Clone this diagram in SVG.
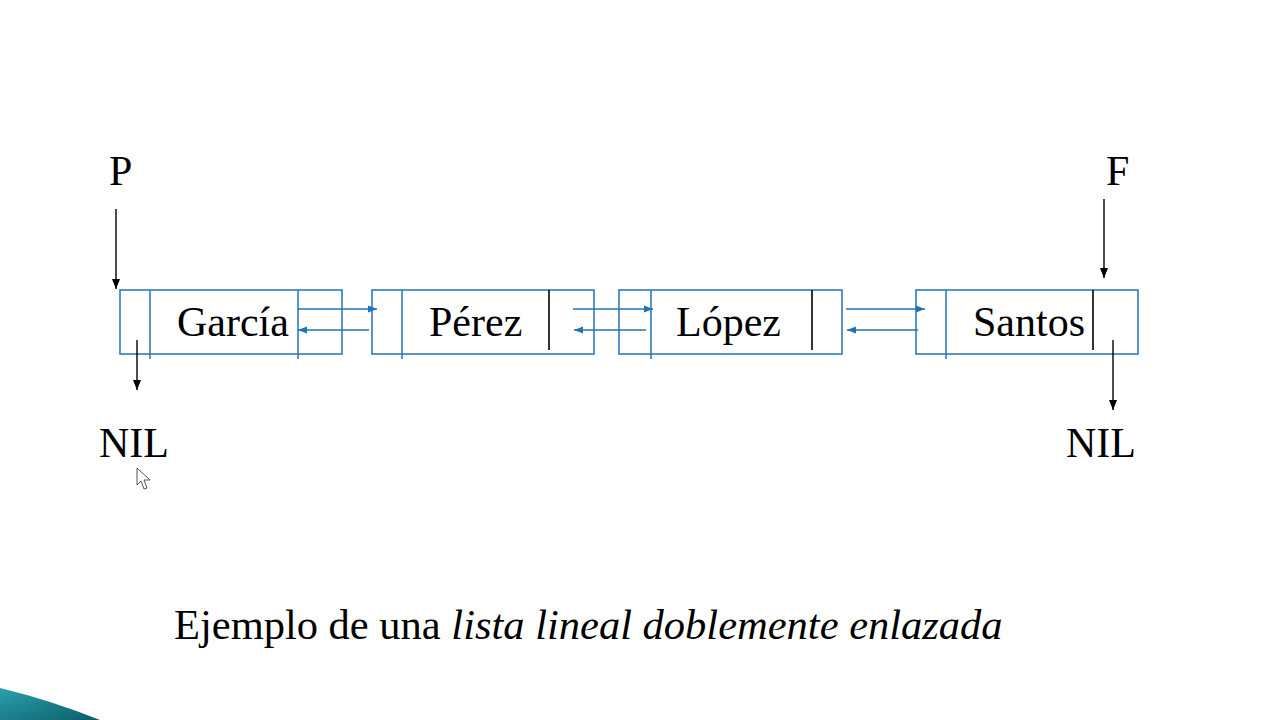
<svg xmlns="http://www.w3.org/2000/svg" width="1280" height="720" viewBox="0 0 1280 720">
<style>
.box{fill:none;stroke:#2e7bbd;stroke-width:1.6}
.bl{stroke:#2e7bbd;stroke-width:1.6}
.bk{stroke:#000;stroke-width:1.6}
.lk{stroke:#1f74b8;stroke-width:1.6;fill:none}
.ptr{stroke:#000;stroke-width:1.4;fill:none}
.t{font-family:"Liberation Serif","Times New Roman",serif;font-size:42px;fill:#000}
.cap{font-family:"Liberation Serif","Times New Roman",serif;font-size:42.5px;fill:#000}
</style>
<defs>
<marker id="ab" viewBox="0 0 10 10" refX="10" refY="5" markerWidth="9" markerHeight="9" markerUnits="userSpaceOnUse" orient="auto"><path d="M0,1 L10,5 L0,9 Z" fill="#1f74b8"/></marker>
<marker id="ak" viewBox="0 0 10 10" refX="10" refY="5" markerWidth="10" markerHeight="10" markerUnits="userSpaceOnUse" orient="auto"><path d="M0,1 L10,5 L0,9 Z" fill="#000"/></marker>
<linearGradient id="sw" x1="0" y1="0" x2="1" y2="1"><stop offset="0" stop-color="#2aa0ad"/><stop offset="1" stop-color="#0b5f6a"/></linearGradient>
</defs>
<rect width="1280" height="720" fill="#fff"/>
<path d="M0,688 Q50,700 100,720 L0,720 Z" fill="url(#sw)"/>

<g id="node-garcia">
<rect class="box" x="120" y="290" width="222" height="64"/>
<line class="bl" x1="150" y1="290" x2="150" y2="359"/>
<line class="bl" x1="298" y1="290" x2="298" y2="359"/>
<text class="t" x="177" y="336">García</text>
</g>
<g id="node-perez">
<rect class="box" x="372" y="290" width="222" height="64"/>
<line class="bl" x1="402" y1="290" x2="402" y2="359"/>
<line class="bk" x1="549" y1="290" x2="549" y2="350"/>
<text class="t" x="429" y="336">Pérez</text>
</g>
<g id="node-lopez">
<rect class="box" x="619" y="290" width="223" height="64"/>
<line class="bl" x1="651" y1="290" x2="651" y2="359"/>
<line class="bk" x1="812" y1="290" x2="812" y2="350"/>
<text class="t" x="676" y="336">López</text>
</g>
<g id="node-santos">
<rect class="box" x="916" y="290" width="222" height="64"/>
<line class="bl" x1="946" y1="290" x2="946" y2="359"/>
<line class="bk" x1="1093" y1="290" x2="1093" y2="350"/>
<text class="t" x="973" y="336">Santos</text>
</g>

<g id="labels">
<text class="t" x="109" y="185">P</text>
<text class="t" x="1106" y="185">F</text>
<text class="t" x="99" y="457">NIL</text>
<text class="t" x="1066" y="457">NIL</text>
<text class="cap" x="174" y="639">Ejemplo de una <tspan font-style="italic">lista lineal doblemente enlazada</tspan></text>
</g>

<g id="connectors">
<line class="lk" x1="298" y1="309" x2="377" y2="309" marker-end="url(#ab)"/>
<line class="lk" x1="369" y1="330" x2="298" y2="330" marker-end="url(#ab)"/>
<line class="lk" x1="573" y1="309" x2="653" y2="309" marker-end="url(#ab)"/>
<line class="lk" x1="646" y1="330" x2="574" y2="330" marker-end="url(#ab)"/>
<line class="lk" x1="846" y1="309" x2="925" y2="309" marker-end="url(#ab)"/>
<line class="lk" x1="918" y1="330" x2="847" y2="330" marker-end="url(#ab)"/>
<line class="ptr" x1="116" y1="209" x2="116" y2="289" marker-end="url(#ak)"/>
<line class="ptr" x1="1104" y1="199" x2="1104" y2="278" marker-end="url(#ak)"/>
<line class="ptr" x1="137" y1="340" x2="137" y2="390" marker-end="url(#ak)"/>
<line class="ptr" x1="1113" y1="340" x2="1113" y2="410" marker-end="url(#ak)"/>
</g>

<path d="M137,468 L137,485 L141,481 L144,489 L147,488 L144,480 L150,480 Z" fill="#fff" stroke="#555" stroke-width="1"/>
</svg>
